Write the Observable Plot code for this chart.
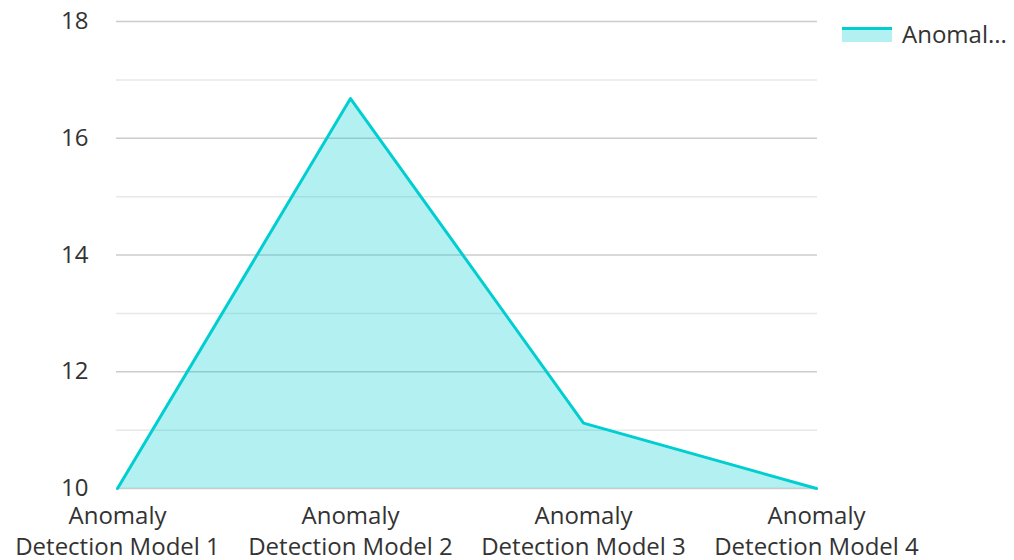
<!DOCTYPE html>
<html>
<head>
<meta charset="utf-8">
<script src="https://cdn.jsdelivr.net/npm/d3@7"></script>
<script src="https://cdn.jsdelivr.net/npm/@observablehq/plot@0.6"></script>
<style>
  html, body { margin: 0; padding: 0; background: #fff; }
  #wrap { position: relative; width: 1014px; height: 560px; font-family: "Open Sans", sans-serif; }
  #legend { position: absolute; left: 842px; top: 17px; display: flex; align-items: center; font-size: 24px; color: #333; }
  #legend svg { margin-right: 10px; }
</style>
</head>
<body>
<div id="wrap"><div id="legend"></div></div>
<script>
const categories = ["Anomaly\nDetection Model 1", "Anomaly\nDetection Model 2", "Anomaly\nDetection Model 3", "Anomaly\nDetection Model 4"];
const values = [10, 16.68, 11.12, 10];
const seriesLabel = "Anomal...";
const majorTicks = [10, 12, 14, 16, 18];
const minorTicks = [11, 13, 15, 17];
const lineColor = "#00ced1";

const data = categories.map((c, i) => ({category: c, value: values[i]}));

const chart = Plot.plot({
  width: 1014,
  height: 560,
  marginLeft: 116,
  marginRight: 197,
  marginTop: 21,
  marginBottom: 72,
  style: {fontFamily: "Open Sans, sans-serif", fontSize: "24px", color: "#333", background: "#fff"},
  x: {type: "point", domain: categories, padding: 0, label: null},
  y: {domain: [10, 18], label: null},
  marks: [
    Plot.ruleY(minorTicks, {stroke: "#e8e8e8", strokeWidth: 1.5}),
    Plot.ruleY(majorTicks, {stroke: "#cccccc", strokeWidth: 1.5}),
    Plot.areaY(data, {x: "category", y1: 10, y2: "value", fill: lineColor, fillOpacity: 0.3}),
    Plot.lineY(data, {x: "category", y: "value", stroke: lineColor, strokeWidth: 3}),
    Plot.axisY({ticks: majorTicks, tickSize: 0, tickPadding: 28, fontSize: 24, fill: "#333"}),
    Plot.axisX({tickSize: 0, tickPadding: 13, fontSize: 24, lineHeight: 1.3, fill: "#333"})
  ]
});
document.getElementById("wrap").appendChild(chart);

document.getElementById("legend").innerHTML =
  `<svg width="50" height="16"><rect x="0" y="2" width="50" height="14" fill="${lineColor}" fill-opacity="0.3"></rect><rect x="0" y="1" width="50" height="3" fill="${lineColor}"></rect></svg><span>${seriesLabel}</span>`;
</script>
</body>
</html>
